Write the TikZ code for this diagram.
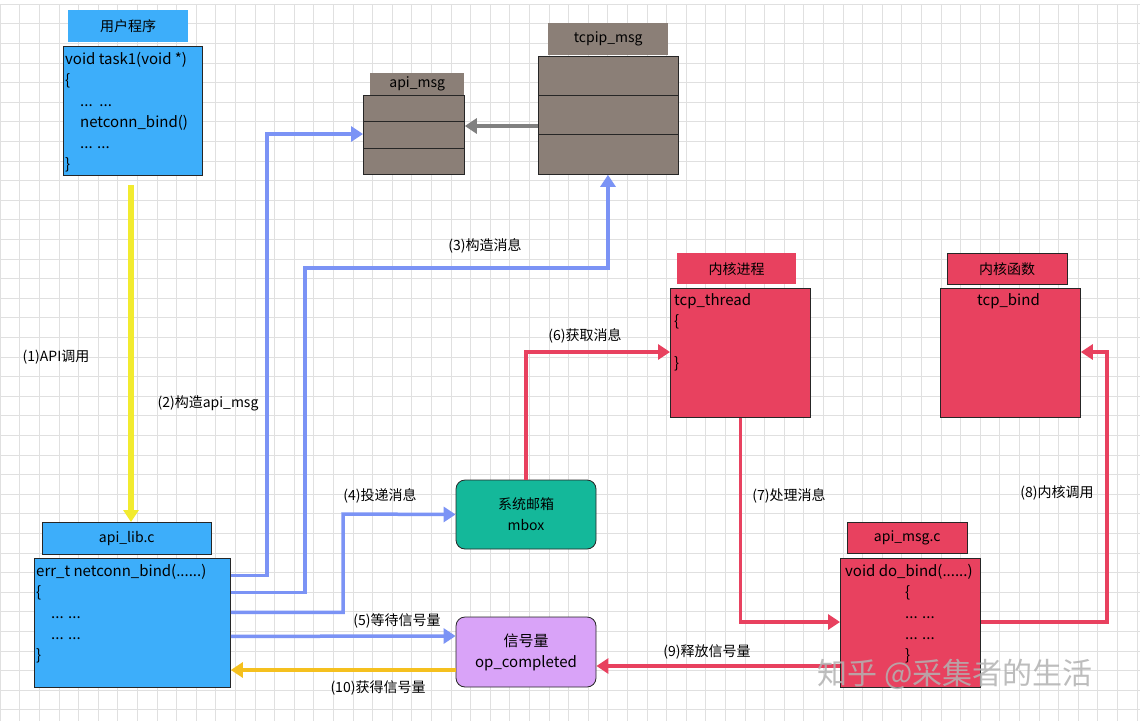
\documentclass[tikz,border=0pt]{standalone}
\usepackage{fontspec}
\setmainfont{Noto Sans CJK SC}
\usetikzlibrary{arrows.meta}
\definecolor{cblue}{HTML}{3DAEFA}
\definecolor{cgray}{HTML}{8B7F77}
\definecolor{cred}{HTML}{E8415F}
\definecolor{cteal}{HTML}{14B89A}
\definecolor{cpurp}{HTML}{D9A3F8}
\definecolor{carrb}{HTML}{7B93F5}
\definecolor{carrr}{HTML}{E8415F}
\definecolor{cyel}{HTML}{F2EB2F}
\definecolor{corng}{HTML}{F5C01E}
\tikzset{
 box/.style={draw=black!85, line width=0.8pt, anchor=north west, inner sep=0pt},
 lab/.style={anchor=north west, inner sep=0pt},
 code/.style={anchor=north west, align=left, font=\fontsize{15}{21}\selectfont, inner sep=0pt},
 txt/.style={font=\fontsize{14}{16}\selectfont, inner sep=1pt},
 arr/.style={line width=3.5pt, -{Triangle[length=12pt,width=15pt]}},
}
\begin{document}
\begin{tikzpicture}[x=1pt,y=-1pt]
\fill[white] (0,0) rectangle (1140,720);
\useasboundingbox (0,0) rectangle (1140,720);
\draw[black!12, line width=0.6pt, step=19.6pt, yshift=-4pt] (0,0) grid (1140,720);
% user program
\node[lab, fill=cblue, minimum width=120pt, minimum height=32pt] (ulab) at (68,10) {};
\node[txt] at (ulab.center) {用户程序};
\node[box, fill=cblue, minimum width=139pt, minimum height=129pt] (ubox) at (63,46) {};
\node[code] (ucode) at (65,52) {void task1(void *)\\\{\\\quad ...\ \ ...\\\quad netconn\_bind()\\\quad ... ...\\\}};
% api_msg
\node[lab, fill=cgray, minimum width=94pt, minimum height=22pt] (amlab) at (370,73) {};
\node[txt] at (amlab.center) {api\_msg};
\node[box, fill=cgray, minimum width=101pt, minimum height=79pt] (ambox) at (363,95) {};
\draw[black!85, line width=0.8pt] (363,121) -- (464,121) (363,148) -- (464,148);
% tcpip_msg
\node[lab, fill=cgray, minimum width=120pt, minimum height=32pt] (tmlab) at (548,23) {};
\node[txt] at (tmlab.center) {tcpip\_msg};
\node[box, fill=cgray, minimum width=140pt, minimum height=118pt] (tmbox) at (538,56) {};
\draw[black!85, line width=0.8pt] (538,95) -- (678,95) (538,134) -- (678,134);
\draw[arr, gray, line width=3.5pt] (tmbox.west |- 0,126) -- (ambox.east |- 0,126);
% api_lib.c
\node[lab, fill=cblue, draw=black!85, minimum width=169pt, minimum height=32pt] (allab) at (42,522) {};
\node[txt] at (allab.center) {api\_lib.c};
\node[box, fill=cblue, minimum width=196pt, minimum height=129pt] (albox) at (34,558) {};
\node[code] at (36,564) {err\_t netconn\_bind(......)\\\{\\\quad ... ...\\\quad ... ...\\\}};
% mbox, semaphore
\node[draw=black!85, line width=0.8pt, fill=cteal, rounded corners=9pt, minimum width=140pt, minimum height=69pt, align=center, font=\fontsize{14}{21}\selectfont] (mbox) at (526,514.5) {系统邮箱\\mbox};
\node[draw=black!85, line width=0.8pt, fill=cpurp, rounded corners=9pt, minimum width=140pt, minimum height=70pt, align=center, font=\fontsize{15}{21}\selectfont] (sem) at (526,652) {信号量\\op\_completed};
% kernel process
\node[lab, fill=cred, minimum width=119pt, minimum height=31pt] (kplab) at (677,253) {};
\node[txt] at (kplab.center) {内核进程};
\node[box, fill=cred, minimum width=140pt, minimum height=129pt] (thr) at (670,288) {};
\node[code] at (674,293) {tcp\_thread\\\{\\ \\\}};
% kernel function
\node[lab, fill=cred, draw=black!85, minimum width=120pt, minimum height=31pt] (kflab) at (947,253) {};
\node[txt] at (kflab.center) {内核函数};
\node[box, fill=cred, minimum width=140pt, minimum height=129pt] (bind) at (940,288) {};
\node[code] at (977,293) {tcp\_bind};
% api_msg.c
\node[lab, fill=cred, draw=black!85, minimum width=120pt, minimum height=31pt] (amclab) at (847,522) {};
\node[txt] at (amclab.center) {api\_msg.c};
\node[box, fill=cred, minimum width=140pt, minimum height=129pt] (dob) at (840,558) {};
\node[code] at (845,564) {void do\_bind(......)};
\node[code] at (905,585) {\{\\... ...\\... ...\\\}};
% arrows
\draw[arr, cyel, line width=6.5pt] (131,185) coordinate (y1) -- (allab.north -| y1);
\draw[arr, carrb] ([yshift=47.5pt]albox.east) -| (267,134) -- (ambox.west |- 0,134);
\draw[arr, carrb] ([yshift=30.5pt]albox.east) -| (305,268) -| (tmbox.south -| 608,0);
\draw[arr, carrb] ([yshift=10.5pt]albox.east) -| (343,514) -- (mbox.west);
\draw[arr, carrb] ([yshift=-13.5pt]albox.east) -- (sem.west |- 0,636);
\draw[arr, corng] (sem.west |- 0,670) -- (albox.east |- 0,670);
\draw[arr, carrr] (mbox.north) |- (thr.west |- 0,352);
\draw[arr, carrr] (thr.south) |- (dob.west |- 0,622);
\draw[arr, carrr] (dob.east |- 0,622) -| (1107,352) -- (bind.east |- 0,352);
\draw[arr, carrr] (dob.west |- 0,666) -- (sem.east |- 0,666);
% labels
\node[txt] at (56,357) {(1)API调用};
\node[txt] at (208,403) {(2)构造api\_msg};
\node[txt] at (485,246) {(3)构造消息};
\node[txt] at (380,496) {(4)投递消息};
\node[txt] at (397,621) {(5)等待信号量};
\node[txt] at (585,336) {(6)获取消息};
\node[txt] at (789,496) {(7)处理消息};
\node[txt] at (1057,493) {(8)内核调用};
\node[txt] at (707,652) {(9)释放信号量};
\node[txt] at (378,688) {(10)获得信号量};
\node[font=\fontsize{30}{32}\selectfont, text=gray!60, opacity=0.85] at (955,674) {知乎 @采集者的生活};
\end{tikzpicture}
\end{document}
